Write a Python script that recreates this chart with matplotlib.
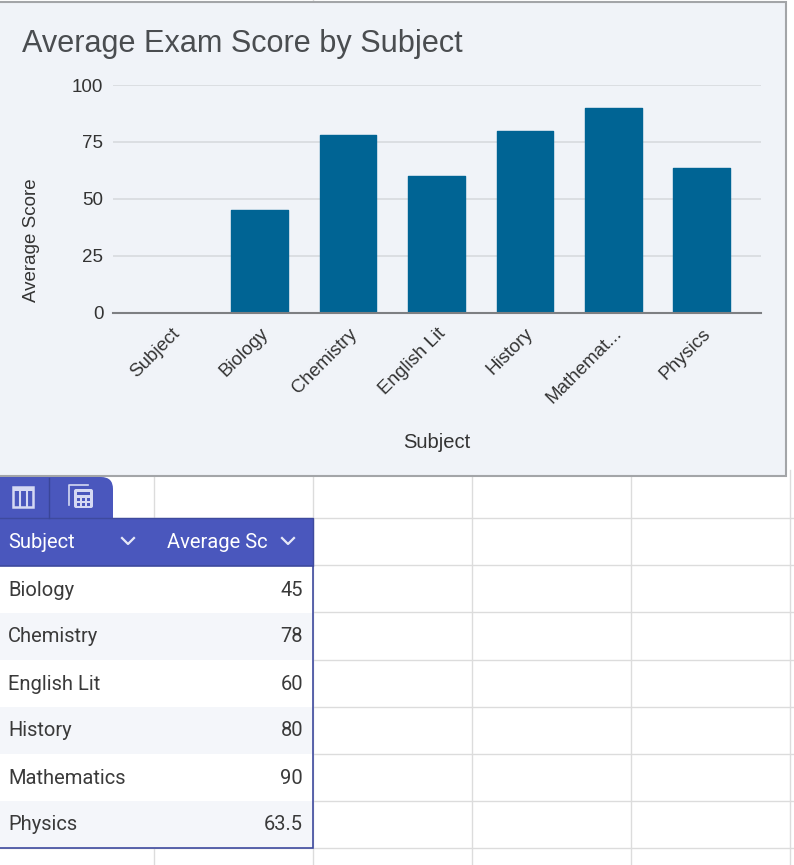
#! /usr/bin/python
# -*- coding:utf-8 -*-
import matplotlib
matplotlib.use('Agg')
import matplotlib.pyplot as plt
from matplotlib.patches import Rectangle, FancyBboxPatch

subjects = ['Biology', 'Chemistry', 'English Lit', 'History', 'Mathematics', 'Physics']
table_values = ['45', '78', '60', '80', '90', '63.5']
chart_labels = ['Subject', 'Biology', 'Chemistry', 'English Lit', 'History', 'Mathemat...', 'Physics']
chart_values = [0, 45, 78, 60, 80, 90, 63.5]
y_ticks = [0, 25, 50, 75, 100]
table_headers = ['Subject', 'Average Sc']

W, H = 794, 865
BAR = '#006494'
HEADER = '#4a57bd'
PANEL = '#f0f3f8'
GRID = '#dcdcdc'

fig = plt.figure(figsize=(W / 100, H / 100), dpi=100)

# pixel canvas for everything that is not the chart itself
bg = fig.add_axes([0, 0, 1, 1])
bg.set_xlim(0, W)
bg.set_ylim(H, 0)
bg.axis('off')

# sheet grid
for x in [154, 313, 472, 631, 790]:
    bg.plot([x, x], [470, H], color=GRID, lw=1, zorder=1)
for y in [518, 565, 612, 660, 707, 754, 801, 848]:
    bg.plot([0, W], [y, y], color=GRID, lw=1, zorder=1)
bg.plot([313, 313], [0, 3], color=GRID, lw=1, zorder=1)

# chart panel
bg.add_patch(Rectangle((-3, 2), 789, 474, fc=PANEL, ec='#a3a5a8', lw=1.5, zorder=2))
bg.text(22, 44, 'Average Exam Score by Subject', fontsize=22.1, color='#4a4d50',
        family='Liberation Sans', va='center', ha='left', zorder=3)
bg.text(32, 240, 'Average Score', fontsize=13.5, color='#333333', family='Liberation Sans',
        rotation=90, va='center', ha='center', zorder=3)
bg.text(437, 442, 'Subject', fontsize=14.5, color='#333333', family='Liberation Sans',
        va='center', ha='center', zorder=3)

# tabs above the table
bg.add_patch(FancyBboxPatch((-20, 477), 133, 60, boxstyle='round,pad=0,rounding_size=12',
                            fc=HEADER, ec='none', zorder=3))
bg.plot([48.5, 48.5], [478, 518], color='#3a4699', lw=1, zorder=4)
ICON = '#d5d9f3'
# table icon
bg.add_patch(Rectangle((13, 487), 20, 20, fc='none', ec=ICON, lw=1.8, zorder=5))
bg.add_patch(Rectangle((13, 487), 20, 4, fc=ICON, ec='none', zorder=5))
for x in [19.5, 26.5]:
    bg.plot([x, x], [491, 507], color=ICON, lw=1.5, zorder=5)
# calculated table icon
bg.plot([69, 69, 88], [505, 485, 485], color=ICON, lw=1.2, zorder=5)
bg.add_patch(FancyBboxPatch((74, 489), 19, 19, boxstyle='round,pad=0,rounding_size=2',
                            fc=ICON, ec='none', zorder=5))
bg.add_patch(Rectangle((77, 492), 13, 3, fc=HEADER, ec='none', zorder=6))
for x in [77, 82, 87]:
    for y in [498, 503]:
        bg.add_patch(Rectangle((x, y), 3, 3, fc=HEADER, ec='none', zorder=6))

# table
bg.add_patch(Rectangle((-3, 518), 316, 48, fc=HEADER, ec='#3e4a9e', lw=1, zorder=3))
bg.text(8, 542, table_headers[0], fontsize=14.5, color='white', family='Roboto',
        va='center', ha='left', zorder=4)
bg.text(268, 542, table_headers[1], fontsize=14.5, color='white', family='Roboto',
        va='center', ha='right', zorder=4)
for x in [128, 288]:
    bg.plot([x - 6, x, x + 6], [538, 544, 538], color='#e6e8f8', lw=1.6, zorder=4)
row_h = (848 - 566) / 6
for i, (name, val) in enumerate(zip(subjects, table_values)):
    top = 566 + i * row_h
    bg.add_patch(Rectangle((-3, top), 316, row_h, fc='#f4f6fa' if i % 2 else 'white',
                           ec='none', zorder=3))
    mid = top + row_h / 2 + 0.5
    bg.text(8, mid, name, fontsize=14.5, color='#3a3a3a', family='Roboto',
            va='center', ha='left', zorder=4)
    bg.text(303, mid, val, fontsize=14.5, color='#3a3a3a', family='Roboto',
            va='center', ha='right', zorder=4)
bg.add_patch(Rectangle((-3, 566), 316, 282, fc='none', ec='#3e4a9e', lw=1.2, zorder=5))

# the chart
ax = fig.add_axes([113 / W, 1 - 312.5 / H, (761 - 113) / W, (312.5 - 85) / H])
ax.patch.set_alpha(0)
ax.bar(range(len(chart_values)), chart_values, width=0.64, color=BAR, edgecolor=BAR,
       linewidth=1.0, joinstyle='round', zorder=3)
ax.set_xlim(-0.66, 6.67)
ax.set_ylim(0, 100)
ax.set_yticks(y_ticks)
ax.grid(axis='y', color='#d9dce0', lw=1.3, zorder=1)
for s in ['top', 'right', 'left']:
    ax.spines[s].set_visible(False)
ax.spines['bottom'].set_color('#7d7f82')
ax.spines['bottom'].set_linewidth(1.5)
ax.spines['bottom'].set_zorder(4)
ax.tick_params(axis='both', length=0)
ax.tick_params(axis='y', pad=7, labelsize=13.5, labelcolor='#333333')
ax.set_xticks(range(len(chart_labels)))
ax.set_xticklabels(chart_labels, rotation=45, ha='right', rotation_mode='anchor',
                   fontsize=13.5, color='#333333')
ax.tick_params(axis='x', pad=9)
for t in ax.get_xticklabels() + ax.get_yticklabels():
    t.set_family('Liberation Sans')

fig.savefig('out.png', dpi=100, facecolor='white')
